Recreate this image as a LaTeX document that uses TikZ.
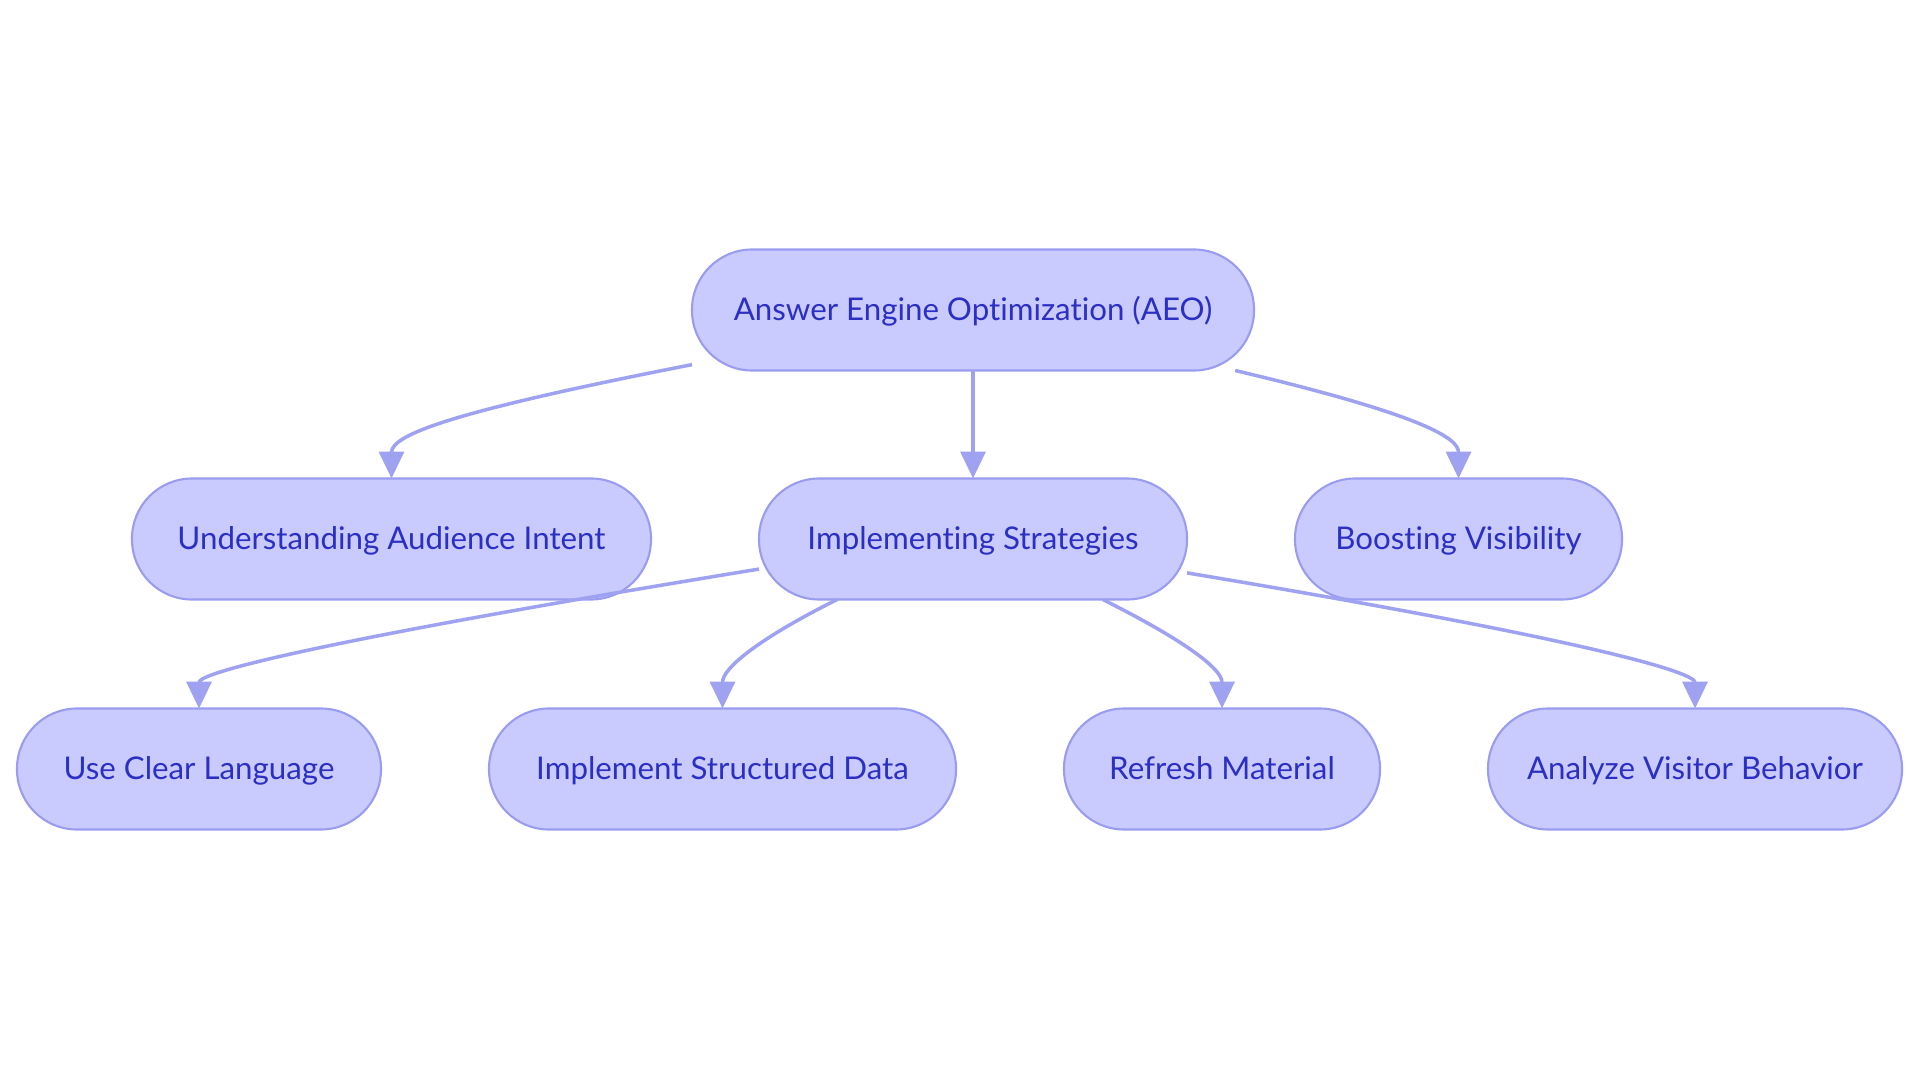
\documentclass[tikz,border=0pt]{standalone}
\usepackage{fontspec}
\setmainfont{Lato}[Ligatures=NoCommon]
\usepackage{xcolor}
\usetikzlibrary{positioning, arrows.meta}

\definecolor{pillfill}{HTML}{C9CAFD}
\definecolor{pillline}{HTML}{9A9DEF}
\definecolor{pilltext}{HTML}{2B2FC4}
\definecolor{linkcol}{HTML}{9FA2F0}

\begin{document}
\begin{tikzpicture}[
    node distance=1.08cm and 1.08cm,
    every node/.style={font=\fontsize{8.9}{11}\selectfont},
    pill/.style={draw=pillline, fill=pillfill, text=pilltext, rounded corners=0.6cm, minimum height=1.21cm, minimum width=#1, inner sep=0pt, outer sep=0pt, text height=1.6ex, text depth=0.45ex, line width=0.6pt},
    arrow/.style={-{Triangle[length=0.27cm, width=0.25cm]}, line width=1pt, draw=linkcol},
  ]
  \useasboundingbox (0,0) rectangle (19.2,-10.83);

  % ---- Root ----
  \node[pill=5.62cm] (aeo) at (9.73,-3.10) {Answer Engine Optimization (AEO)};

  % ---- Second level ----
  \node[pill=4.28cm, below=of aeo] (impl) {Implementing Strategies};
  \node[pill=5.19cm, left=of impl] (intent) {Understanding Audience Intent};
  \node[pill=3.27cm, right=of impl] (boost) {Boosting Visibility};

  % ---- Strategies ----
  \node[pill=3.64cm] (clear) at (1.99,-7.69) {Use Clear Language};
  \node[pill=4.67cm, right=of clear] (struct) {Implement Structured Data};
  \node[pill=3.16cm, right=of struct] (refresh) {Refresh Material};
  \node[pill=4.14cm, right=of refresh] (visitor) {Analyze Visitor Behavior};

  % ---- Arrows ----
  \draw[arrow] (aeo.191) .. controls +(-2.3,-0.45) and +(0,0.45) .. (intent.north);
  \draw[arrow] (aeo.south) -- (impl.north);
  \draw[arrow] (aeo.347) .. controls +(1.9,-0.45) and +(0,0.4) .. (boost.north);
  \draw[arrow] (impl.188.4) .. controls +(-4.6,-0.75) and +(0,0.35) .. (clear.north);
  \draw[arrow] (impl.204.6) .. controls +(-0.8,-0.4) and +(0,0.4) .. (struct.north);
  \draw[arrow] (impl.335.2) .. controls +(0.8,-0.4) and +(0,0.4) .. (refresh.north);
  \draw[arrow] (impl.351.1) .. controls +(4.2,-0.7) and +(0,0.35) .. (visitor.north);

\end{tikzpicture}
\end{document}
